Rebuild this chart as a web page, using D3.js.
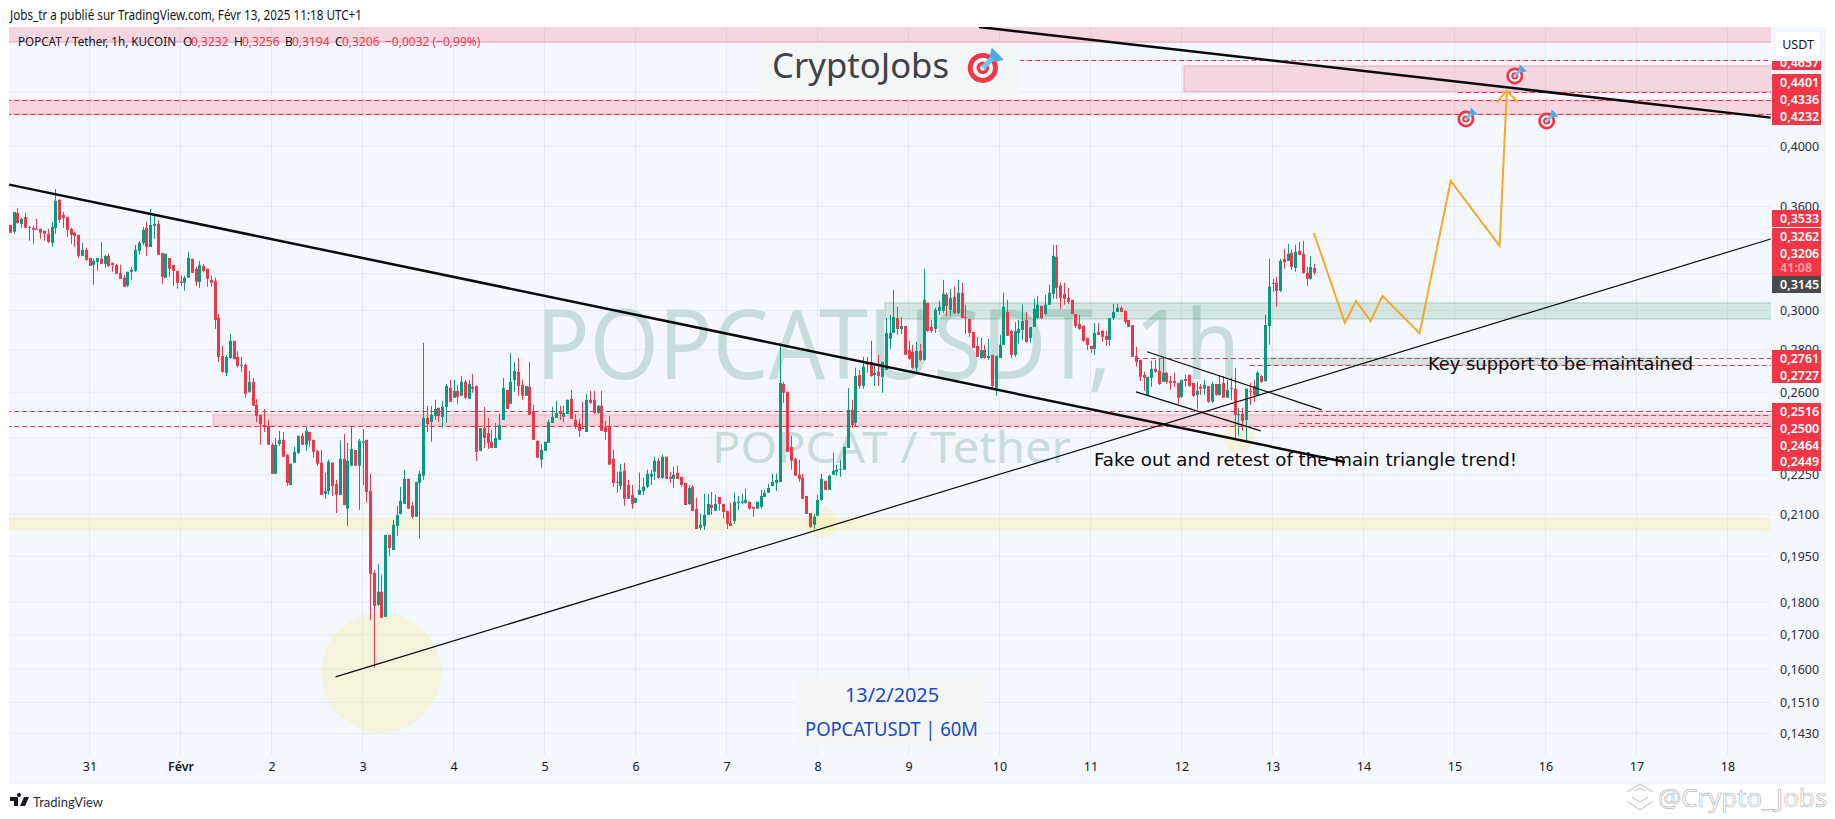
<!DOCTYPE html>
<html>
<head>
<meta charset="utf-8">
<title>POPCATUSDT 1h</title>
<script src="https://cdn.jsdelivr.net/npm/d3@7"></script>
<style>
  html, body { margin: 0; padding: 0; background: #fff; overflow: hidden; }
  text { font-family: "Noto Sans", sans-serif; }
</style>
</head>
<body>
<div id="chart"></div>
<script>
// hourly candles, first one is 21 hours before 31 Jan 00:00
var firstHour = -21;

var opens = [
.3486,.3444,.3560,.3492,.3535,.3468,.3468,.3462,.3462,.3450,.3432,.3378,.3468,.3642,.3548,.3535,.3462,.3438,.3426,.3302,.3337,
.3290,.3250,.3267,.3285,.3256,.3302,.3262,.3250,.3205,.3178,.3133,.3211,.3216,.3331,.3378,.3468,.3354,.3480,.3492,.3319,.3177,.3290,.3250,.3216,
.3155,.3150,.3178,.3285,.3228,.3155,.3244,.3228,.3166,.3161,.2961,.2771,.2690,.2761,.2845,.2766,.2723,.2728,.2602,.2648,.2543,.2499,.2455,.2451,
.2371,.2254,.2375,.2392,.2330,.2210,.2298,.2338,.2409,.2371,.2425,.2392,.2346,.2298,.2176,.2187,.2298,.2214,.2172,.2314,.2120,.2286,.2350,.2286,
.2379,.2392,.2187,.1894,.1791,.1833,.1754,.2025,.1972,.2057,.2101,.2138,.2234,.2131,.2090,.2218,.2246,.2486,.2468,.2494,.2530,.2490,.2534,.2620,
.2575,.2606,.2584,.2648,.2570,.2625,.2629,.2346,.2442,.2421,.2384,.2358,.2392,.2477,.2611,.2548,.2657,.2695,.2634,.2584,.2625,.2516,.2388,.2310,
.2346,.2379,.2464,.2486,.2512,.2490,.2503,.2570,.2477,.2459,.2442,.2425,.2566,.2566,.2508,.2539,.2447,.2451,.2314,.2222,.2206,.2266,.2210,.2172,
.2142,.2172,.2187,.2203,.2242,.2262,.2306,.2238,.2322,.2242,.2234,.2258,.2242,.2218,.2138,.2203,.2120,.2050,.2057,.2097,.2134,.2112,.2164,.2138,
.2112,.2068,.2075,.2142,.2142,.2142,.2146,.2127,.2120,.2127,.2164,.2180,.2206,.2218,.2222,.2638,.2602,.2363,.2314,.2250,.2238,.2168,.2104,.2061,
.2094,.2153,.2226,.2191,.2250,.2262,.2270,.2270,.2358,.2521,.2464,.2680,.2629,.2742,.2742,.2680,.2695,.2671,.2704,.2855,.2885,.2961,.2905,.2920,
.2800,.2790,.2714,.2795,.2752,.3041,.2915,.2905,.2999,.2999,.3084,.3004,.3073,.2988,.3095,.2966,.2956,.2890,.2820,.2761,.2800,.2761,.2776,.2620,
.2761,.2825,.2993,.2895,.2776,.2885,.2900,.2951,.2860,.2915,.2961,.3025,.2982,.3031,.3089,.3296,.3133,.3089,.3068,.3057,.2982,.2930,.2920,.2860,
.2820,.2805,.2890,.2895,.2870,.2850,.2961,.2993,.3015,.2999,.2951,.2925,.2771,.2752,.2680,.2588,.2666,.2709,.2699,.2648,.2690,.2652,.2652,.2643,
.2579,.2661,.2680,.2643,.2588,.2625,.2616,.2629,.2557,.2638,.2588,.2643,.2575,.2616,.2616,.2499,.2503,.2477,.2606,.2629,.2588,.2675,.2652,.2920,
.3150,.3150,.3106,.3285,.3273,.3319,.3233,.3331,.3314,.3205,.3172,.3232];

var highs = [
.3486,.3566,.3591,.3529,.3560,.3480,.3480,.3523,.3462,.3450,.3462,.3505,.3712,.3648,.3566,.3535,.3468,.3444,.3426,.3378,.3349,
.3290,.3285,.3290,.3384,.3308,.3314,.3262,.3256,.3250,.3194,.3211,.3239,.3366,.3390,.3474,.3505,.3585,.3548,.3517,.3319,.3314,.3290,.3250,.3216,
.3189,.3189,.3325,.3285,.3239,.3273,.3256,.3228,.3189,.3178,.2982,.2820,.2776,.2880,.2845,.2795,.2766,.2733,.2699,.2666,.2570,.2499,.2525,.2477,
.2379,.2400,.2430,.2425,.2334,.2294,.2363,.2409,.2421,.2447,.2425,.2392,.2350,.2350,.2258,.2310,.2298,.2230,.2388,.2417,.2379,.2451,.2350,.2396,
.2438,.2392,.2254,.1904,.1924,.1888,.2025,.2025,.2079,.2131,.2203,.2270,.2234,.2146,.2222,.2266,.2835,.2539,.2539,.2566,.2530,.2561,.2638,.2657,
.2657,.2634,.2675,.2657,.2657,.2685,.2629,.2442,.2534,.2486,.2434,.2464,.2503,.2666,.2611,.2785,.2742,.2761,.2657,.2629,.2742,.2543,.2388,.2375,
.2384,.2477,.2534,.2561,.2539,.2539,.2566,.2611,.2503,.2481,.2557,.2593,.2606,.2606,.2543,.2606,.2473,.2494,.2350,.2262,.2294,.2298,.2230,.2210,
.2161,.2258,.2238,.2270,.2270,.2322,.2318,.2330,.2322,.2262,.2282,.2286,.2242,.2218,.2210,.2210,.2161,.2101,.2176,.2176,.2183,.2172,.2164,.2138,
.2112,.2142,.2180,.2168,.2176,.2195,.2146,.2127,.2146,.2191,.2191,.2214,.2254,.2254,.2835,.2648,.2602,.2409,.2318,.2310,.2254,.2168,.2104,.2101,
.2172,.2254,.2226,.2250,.2338,.2290,.2310,.2363,.2620,.2566,.2714,.2704,.2766,.2766,.2845,.2738,.2776,.2742,.2961,.2977,.3111,.3020,.2966,.2920,
.2845,.2825,.2840,.2830,.3228,.3041,.2951,.3015,.3052,.3166,.3095,.3117,.3128,.3166,.3150,.3031,.2956,.2890,.2865,.2860,.2825,.2855,.2776,.2771,
.2875,.3095,.3057,.2900,.2941,.2951,.3031,.2993,.2915,.3062,.3079,.3025,.3084,.3139,.3366,.3366,.3150,.3150,.3122,.3057,.2982,.2977,.2925,.2860,
.2820,.2935,.2935,.2900,.2895,.2961,.3036,.3036,.3025,.2999,.2951,.2925,.2815,.2752,.2695,.2671,.2747,.2752,.2757,.2757,.2695,.2675,.2690,.2643,
.2657,.2680,.2680,.2643,.2648,.2638,.2657,.2629,.2648,.2638,.2680,.2675,.2657,.2666,.2714,.2530,.2530,.2616,.2643,.2657,.2699,.2680,.2977,.3285,
.3172,.3183,.3285,.3343,.3372,.3337,.3366,.3384,.3390,.3239,.3302,.3256];

var lows = [
.3438,.3432,.3492,.3468,.3468,.3390,.3372,.3456,.3402,.3390,.3378,.3354,.3432,.3498,.3468,.3414,.3372,.3354,.3290,.3302,.3273,
.3244,.3139,.3216,.3256,.3233,.3239,.3211,.3200,.3172,.3128,.3128,.3166,.3211,.3308,.3366,.3302,.3354,.3402,.3308,.3144,.3177,.3183,.3133,.3117,
.3133,.3106,.3178,.3205,.3133,.3122,.3211,.3128,.3128,.2905,.2742,.2690,.2675,.2756,.2756,.2714,.2695,.2575,.2597,.2539,.2468,.2371,.2425,.2371,
.2254,.2254,.2367,.2322,.2206,.2210,.2298,.2334,.2371,.2346,.2363,.2318,.2286,.2172,.2157,.2172,.2168,.2104,.2172,.2134,.2057,.2286,.2286,.2116,
.2210,.2142,.1745,.1604,.1788,.1751,.1754,.1951,.1972,.2021,.2101,.2138,.2120,.2083,.2090,.2011,.2230,.2425,.2384,.2477,.2468,.2442,.2464,.2557,
.2575,.2548,.2584,.2570,.2570,.2597,.2306,.2346,.2358,.2354,.2358,.2358,.2392,.2477,.2525,.2548,.2602,.2584,.2566,.2584,.2499,.2392,.2318,.2278,
.2346,.2379,.2464,.2486,.2477,.2468,.2503,.2481,.2438,.2404,.2438,.2425,.2548,.2503,.2503,.2430,.2392,.2290,.2203,.2180,.2191,.2131,.2157,.2120,
.2142,.2172,.2172,.2199,.2210,.2230,.2234,.2234,.2234,.2218,.2199,.2234,.2203,.2134,.2134,.2112,.2046,.2043,.2043,.2097,.2097,.2112,.2112,.2083,
.2046,.2057,.2065,.2116,.2138,.2138,.2116,.2090,.2120,.2120,.2164,.2180,.2206,.2187,.2222,.2552,.2342,.2270,.2246,.2222,.2157,.2101,.2050,.2046,
.2094,.2149,.2191,.2191,.2250,.2246,.2242,.2270,.2358,.2442,.2447,.2616,.2616,.2690,.2671,.2629,.2629,.2597,.2704,.2805,.2885,.2875,.2880,.2776,
.2752,.2709,.2695,.2747,.2747,.2890,.2885,.2885,.2977,.2988,.2972,.2972,.2982,.2982,.2961,.2880,.2865,.2810,.2766,.2757,.2757,.2752,.2620,.2584,
.2761,.2825,.2870,.2761,.2766,.2830,.2850,.2835,.2835,.2915,.2956,.2956,.2977,.3031,.3062,.3062,.3009,.3031,.3036,.2982,.2910,.2900,.2840,.2800,
.2785,.2776,.2875,.2840,.2820,.2820,.2951,.2993,.2993,.2930,.2915,.2766,.2719,.2652,.2606,.2584,.2625,.2690,.2634,.2648,.2638,.2611,.2625,.2548,
.2575,.2625,.2625,.2579,.2525,.2588,.2588,.2552,.2552,.2584,.2584,.2575,.2575,.2566,.2400,.2409,.2430,.2388,.2543,.2557,.2584,.2643,.2648,.2825,
.3100,.3020,.3100,.3228,.3273,.3222,.3211,.3308,.3200,.3133,.3166,.3194];

var closes = [
.3438,.3566,.3498,.3523,.3468,.3474,.3456,.3456,.3438,.3432,.3384,.3474,.3636,.3517,.3529,.3456,.3426,.3420,.3302,.3337,.3279,
.3244,.3273,.3290,.3256,.3302,.3244,.3250,.3200,.3172,.3128,.3211,.3222,.3337,.3378,.3456,.3354,.3486,.3492,.3308,.3183,.3314,.3228,.3216,.3150,
.3150,.3178,.3290,.3205,.3155,.3250,.3216,.3172,.3150,.2951,.2766,.2695,.2766,.2845,.2756,.2723,.2728,.2593,.2648,.2539,.2494,.2459,.2451,.2371,
.2254,.2371,.2392,.2322,.2218,.2294,.2342,.2409,.2371,.2430,.2388,.2342,.2294,.2172,.2187,.2302,.2206,.2172,.2314,.2134,.2306,.2354,.2286,.2388,
.2384,.2183,.1891,.1788,.1833,.1751,.2025,.1979,.2061,.2097,.2149,.2234,.2120,.2090,.2222,.2254,.2486,.2459,.2499,.2525,.2494,.2534,.2629,.2557,
.2606,.2579,.2648,.2575,.2638,.2616,.2342,.2442,.2400,.2379,.2358,.2400,.2455,.2620,.2525,.2648,.2699,.2629,.2584,.2629,.2499,.2392,.2318,.2350,
.2384,.2468,.2490,.2508,.2503,.2508,.2566,.2481,.2451,.2430,.2438,.2566,.2552,.2508,.2539,.2430,.2425,.2290,.2218,.2218,.2262,.2157,.2157,.2138,
.2161,.2191,.2203,.2254,.2254,.2306,.2238,.2322,.2234,.2234,.2250,.2234,.2210,.2134,.2199,.2112,.2046,.2061,.2097,.2138,.2123,.2138,.2138,.2108,
.2065,.2057,.2146,.2146,.2146,.2153,.2120,.2120,.2146,.2168,.2180,.2199,.2222,.2230,.2643,.2597,.2342,.2306,.2246,.2234,.2157,.2101,.2054,.2090,
.2153,.2234,.2191,.2246,.2266,.2270,.2274,.2363,.2521,.2455,.2675,.2629,.2719,.2728,.2675,.2690,.2675,.2742,.2885,.2885,.2966,.2905,.2920,.2776,
.2757,.2714,.2795,.2752,.3057,.2895,.2895,.3004,.3020,.3089,.3025,.3068,.2988,.3095,.2961,.2961,.2885,.2810,.2766,.2800,.2761,.2771,.2629,.2771,
.2825,.3020,.2870,.2776,.2895,.2905,.2946,.2840,.2915,.3009,.3031,.2961,.3031,.3095,.3302,.3122,.3068,.3062,.3046,.2982,.2920,.2905,.2845,.2825,
.2805,.2885,.2875,.2865,.2850,.2961,.2993,.3015,.2993,.2941,.2915,.2766,.2742,.2671,.2666,.2671,.2709,.2695,.2638,.2690,.2648,.2643,.2643,.2575,
.2657,.2652,.2629,.2584,.2606,.2616,.2634,.2557,.2638,.2588,.2638,.2575,.2611,.2620,.2499,.2503,.2473,.2616,.2602,.2588,.2690,.2648,.2925,.3128,
.3144,.3106,.3273,.3267,.3314,.3239,.3325,.3308,.3205,.3172,.3238,.3206];

// axes
var dayTicks = d3.range(0, 19);                // days after 31 Jan
var dayLabels = ["31", "Févr", "2", "3", "4", "5", "6", "7", "8", "9", "10", "11", "12", "13", "14", "15", "16", "17", "18"];
var axisPrices = [.4, .36, .3, .28, .26, .225, .21, .195, .18, .17, .16, .151, .143];
var gridPrices = [.48, .44, .4, .36, .34, .32, .3, .28, .26, .24, .225, .21, .195, .18, .17, .16, .151, .143];

// right hand price tags
var tagPrices = [.4657, .4401, .4336, .4232, .3533, .3262, .3206, .3145, .2761, .2727, .2516, .25, .2464, .2449];

// drawings, all [hour, hour, price, price] or [hour, price] lists. 445 runs past the pane edge
var pinkZones = [[-22, 445, .5, .4803], [288.6, 445, .4606, .4401], [-22, 445, .4336, .4232], [32.6, 445, .25, .2452]];
var greenZones = [[209.8, 445, .3041, .2956], [310.8, 422, .2761, .2727]];
var yellowZones = [[-22, 445, .2083, .2043]];
var yellowSpots = [[61.1, 92.7, .1767, .1432], [189.2, 197, .2128, .2014], [299, 307.4, .2464, .2338]];
var dashedLevels = [[.4657, 241], [.4401, 360.9], [.4336, -22], [.4232, -22], [.2761, 275.7], [.2727, 306],
                    [.2516, -22], [.25, 319], [.2464, 319], [.2449, -22]];
var thickLines = [[[-21.2, .3741], [331.1, .2301]], [[234.6, .4931], [443.4, .4207]]];
var thinLines = [[[64.9, .1579], [443.4, .3401]], [[278.9, .2791], [325, .2521]], [[276, .2602], [308.9, .243]]];
var forecast = [[322.9, .3437], [331.1, .2936], [334, .3051], [337.9, .2946], [341, .3078], [350.8, .2883], [359, .3765], [371.9, .336], [373.8, .4409]];
var forecastHead = [[371.2, .4324], [373.8, .4409], [376.7, .4324]];
var targets = [[363, .4197], [384.3, .4182], [375.9, .4526]];
var bigTarget = [235.6, .459];

var svgWidth = 1835, svgHeight = 819;
var pane = {left: 9, right: 1771, top: 27, bottom: 783, axisRight: 1825};
var red = "#f23645", green = "#089981";

var svg = d3.select("#chart").append("svg")
  .attr("width", svgWidth)
  .attr("height", svgHeight)
  .style("display", "block");

var dayMs = 864e5, hourMs = 36e5;
var t0 = Date.UTC(2025, 0, 31);
var xTime = d3.scaleUtc()
  .domain([new Date(t0), new Date(t0 + 18 * dayMs)])
  .range([89.5, 89.5 + 18 * 91]);
var yPrice = d3.scaleLog()
  .domain([.1311, .4931])
  .range([pane.bottom, pane.top]);

function xh(hour) { return xTime(new Date(t0 + hour * hourMs)); }
function comma(v) { return v.toFixed(4).replace(".", ","); }

svg.append("defs").append("clipPath").attr("id", "paneClip").append("rect")
  .attr("x", pane.left).attr("y", pane.top)
  .attr("width", pane.right - pane.left).attr("height", pane.bottom - pane.top);
svg.select("defs").append("clipPath").attr("id", "tagClip").append("rect")
  .attr("x", 1772).attr("y", 61).attr("width", 50).attr("height", 9);

// background
svg.append("rect")
  .attr("x", pane.left).attr("y", pane.top)
  .attr("width", pane.axisRight - pane.left).attr("height", pane.bottom - pane.top)
  .attr("fill", "#f4f7ff");
svg.append("path")
  .attr("d", `M${pane.axisRight},${pane.top}V${pane.bottom}H${pane.left}`)
  .attr("fill", "none").attr("stroke", "#e9ecf4");

var chart = svg.append("g").attr("clip-path", "url(#paneClip)");

// grid
chart.selectAll(".hgrid").data(gridPrices).enter().append("line")
  .attr("x1", pane.left).attr("x2", pane.right)
  .attr("y1", d => yPrice(d)).attr("y2", d => yPrice(d))
  .attr("stroke", "#e6e9f3");
chart.selectAll(".vgrid").data(dayTicks).enter().append("line")
  .attr("x1", d => xTime(new Date(t0 + d * dayMs))).attr("x2", d => xTime(new Date(t0 + d * dayMs)))
  .attr("y1", pane.top).attr("y2", 755)
  .attr("stroke", "#e6e9f3");

// watermark
chart.append("text")
  .attr("x", 536).attr("y", 379)
  .attr("textLength", 704).attr("lengthAdjust", "spacingAndGlyphs")
  .style("font-size", "96px").style("fill", "#c7dcdd")
  .text("POPCATUSDT, 1h");
chart.append("text")
  .attr("x", 712).attr("y", 463)
  .attr("textLength", 359).attr("lengthAdjust", "spacingAndGlyphs")
  .style("font-size", "43px").style("fill", "#c7dcdd")
  .text("POPCAT / Tether");

// zones
function drawZones(data, fill, stroke) {
  chart.selectAll(null).data(data).enter().append("rect")
    .attr("x", d => xh(d[0]))
    .attr("width", d => xh(d[1]) - xh(d[0]))
    .attr("y", d => yPrice(d[2]))
    .attr("height", d => yPrice(d[3]) - yPrice(d[2]))
    .attr("fill", fill).attr("stroke", stroke).attr("stroke-width", 2);
}
drawZones(pinkZones, "rgba(242,54,69,0.17)", "rgba(242,54,69,0.17)");
drawZones(greenZones, "rgba(46,150,90,0.17)", "rgba(46,150,90,0.17)");
drawZones(yellowZones, "rgba(250,230,90,0.22)", "rgba(250,230,90,0.15)");

chart.selectAll(".spot").data(yellowSpots).enter().append("ellipse")
  .attr("cx", d => (xh(d[0]) + xh(d[1])) / 2)
  .attr("cy", d => (yPrice(d[2]) + yPrice(d[3])) / 2)
  .attr("rx", d => (xh(d[1]) - xh(d[0])) / 2)
  .attr("ry", d => (yPrice(d[3]) - yPrice(d[2])) / 2)
  .attr("fill", "rgba(250,230,90,0.22)");

// dashed levels
chart.selectAll(".level").data(dashedLevels).enter().append("line")
  .attr("x1", d => xh(d[1])).attr("x2", pane.right)
  .attr("y1", d => Math.round(yPrice(d[0])) + .5).attr("y2", d => Math.round(yPrice(d[0])) + .5)
  .attr("stroke", red).attr("stroke-width", 1).attr("stroke-dasharray", "5,3");

// candles
var candles = closes.map(function(c, i) {
  return {hour: firstHour + i, open: opens[i], high: highs[i], low: lows[i], close: c};
});
var candle = chart.selectAll(".candle").data(candles).enter().append("g");
candle.append("line")
  .attr("x1", d => Math.round(xh(d.hour)) + .5).attr("x2", d => Math.round(xh(d.hour)) + .5)
  .attr("y1", d => yPrice(d.high)).attr("y2", d => yPrice(d.low))
  .attr("stroke", d => d.close >= d.open ? green : red);
candle.append("rect")
  .attr("x", d => Math.round(xh(d.hour)) - 1)
  .attr("width", 3)
  .attr("y", d => yPrice(Math.max(d.open, d.close)))
  .attr("height", d => Math.max(1, Math.abs(yPrice(d.open) - yPrice(d.close))))
  .attr("fill", d => d.close >= d.open ? green : red);

// trend lines
var pointLine = d3.line().x(d => xh(d[0])).y(d => yPrice(d[1]));
chart.selectAll(".thick").data(thickLines).enter().append("path")
  .attr("d", pointLine).attr("fill", "none").attr("stroke", "#0b0b0b").attr("stroke-width", 2.5);
chart.selectAll(".thin").data(thinLines).enter().append("path")
  .attr("d", pointLine).attr("fill", "none").attr("stroke", "#0b0b0b").attr("stroke-width", 1.2);

// projected path
chart.append("path").attr("d", pointLine(forecast))
  .attr("fill", "none").attr("stroke", "#f9a825").attr("stroke-width", 2);
chart.append("path").attr("d", pointLine(forecastHead))
  .attr("fill", "none").attr("stroke", "#f9a825").attr("stroke-width", 2);

// target icons
function drawTarget(cx, cy, r) {
  var g = chart.append("g").attr("transform", `translate(${cx},${cy})`);
  [[1, red], [.68, "#fff"], [.42, red], [.18, "#fff"]].forEach(function(ring) {
    g.append("circle").attr("r", r * ring[0]).attr("fill", ring[1]);
  });
  g.append("line")
    .attr("x1", 0).attr("y1", 0).attr("x2", r * .95).attr("y2", -r * .95)
    .attr("stroke", "#69c8f2").attr("stroke-width", r * .36);
  g.append("path")
    .attr("d", `M${r * .6},${-r * 1.35}L${r * 1.4},${-r * .55}L${r * .85},${-r * .4}L${r * .45},${-r * .8}Z`)
    .attr("fill", "#4fa8e8");
}
targets.forEach(d => drawTarget(xh(d[0]), yPrice(d[1]), 8.5));

// CryptoJobs banner
chart.append("rect").attr("x", 760).attr("y", 43).attr("width", 260).attr("height", 53).attr("fill", "#f3f6f6");
chart.append("text")
  .attr("x", 772).attr("y", 78)
  .attr("textLength", 177).attr("lengthAdjust", "spacingAndGlyphs")
  .style("font-size", "35px").style("fill", "#3f4246")
  .text("CryptoJobs");
drawTarget(xh(bigTarget[0]), yPrice(bigTarget[1]), 15);

// date box
chart.append("rect").attr("x", 797).attr("y", 678).attr("width", 186).attr("height", 68).attr("fill", "#f3f6f5");
chart.append("text")
  .attr("x", 845).attr("y", 702)
  .attr("textLength", 94).attr("lengthAdjust", "spacingAndGlyphs")
  .style("font-size", "19.5px").style("fill", "#1848cc")
  .text("13/2/2025");
chart.append("text")
  .attr("x", 805).attr("y", 736)
  .attr("textLength", 173).attr("lengthAdjust", "spacingAndGlyphs")
  .style("font-size", "19.5px").style("fill", "#1848cc")
  .text("POPCATUSDT | 60M");

// notes
chart.append("text")
  .attr("x", 1428).attr("y", 370)
  .attr("textLength", 265).attr("lengthAdjust", "spacingAndGlyphs")
  .style("font-family", "'DejaVu Sans'").style("font-size", "18px").style("fill", "#0b0b0b")
  .text("Key support to be maintained");
chart.append("text")
  .attr("x", 1094).attr("y", 466)
  .attr("textLength", 423).attr("lengthAdjust", "spacingAndGlyphs")
  .style("font-family", "'DejaVu Sans'").style("font-size", "18px").style("fill", "#0b0b0b")
  .text("Fake out and retest of the main triangle trend!");

// time axis
var xAxis = d3.axisBottom(xTime)
  .tickValues(dayTicks.map(d => new Date(t0 + d * dayMs)))
  .tickFormat((d, i) => dayLabels[i])
  .tickSize(0).tickPadding(0);
var xAxisG = svg.append("g").attr("transform", "translate(0,762)").call(xAxis);
xAxisG.select(".domain").remove();
xAxisG.selectAll("text").style("font-size", "12.5px").style("fill", "#131722")
  .style("font-family", "'Noto Sans', sans-serif")
  .style("font-weight", (d, i) => i == 1 ? "600" : "400");

// price axis
var yAxis = d3.axisRight(yPrice)
  .tickValues(axisPrices)
  .tickFormat(comma)
  .tickSize(0).tickPadding(0);
var yAxisG = svg.append("g").attr("transform", "translate(1780,0)").call(yAxis);
yAxisG.select(".domain").remove();
yAxisG.selectAll("text").style("font-size", "12.5px").style("fill", "#2a2e39")
  .style("font-family", "'Noto Sans', sans-serif");

// price tags, rows are stacked so they don't overlap
var tagRows = [62, 82, 99, 116, 218, 236, 253, 284, 358, 375, 411, 428, 445, 461];
var tagBoxes = [[61, 70], [74, 125], [210, 227], [228, 276], [350, 383], [403, 471]];
svg.selectAll(".tagbox").data(tagBoxes).enter().append("rect")
  .attr("x", 1772).attr("width", 49)
  .attr("y", d => d[0]).attr("height", d => d[1] - d[0])
  .attr("fill", red);
svg.append("rect").attr("x", 1772).attr("y", 276).attr("width", 49).attr("height", 17).attr("fill", "#4a4a4a");
svg.selectAll(".tag").data(tagPrices).enter().append("text")
  .attr("x", 1780)
  .attr("y", (d, i) => tagRows[i] + 4.5)
  .attr("clip-path", (d, i) => i == 0 ? "url(#tagClip)" : null)
  .style("font-size", "12.5px").style("font-weight", "600").style("fill", "#fff")
  .text(comma);
svg.append("text")
  .attr("x", 1780).attr("y", 271.5)
  .style("font-size", "12.5px").style("font-weight", "600").style("fill", "#f9a3ab")
  .text("41:08");

// currency button
svg.append("rect")
  .attr("x", 1775).attr("y", 31).attr("width", 46).attr("height", 26).attr("rx", 4)
  .attr("fill", "#fff").attr("stroke", "#eceef4");
svg.append("text")
  .attr("x", 1798).attr("y", 49).attr("text-anchor", "middle")
  .style("font-size", "12.5px").style("fill", "#131722")
  .text("USDT");

// header and legend
svg.append("text")
  .attr("x", 10).attr("y", 20)
  .attr("textLength", 352).attr("lengthAdjust", "spacingAndGlyphs")
  .style("font-size", "13.5px").style("fill", "#131722")
  .text("Jobs_tr a publié sur TradingView.com, Févr 13, 2025 11:18 UTC+1");

var last = closes.length - 1;
var change = closes[last] - closes[last - 1];
var changePct = change / closes[last - 1] * 100;
var legend = [
  ["POPCAT / Tether, 1h, KUCOIN", 18, "#131722"],
  ["O", 183, "#131722"], [comma(opens[last]), 191, red],
  ["H", 234, "#131722"], [comma(highs[last]), 242, red],
  ["B", 285, "#131722"], [comma(lows[last]), 292, red],
  ["C", 335, "#131722"], [comma(closes[last]), 342, red],
  ["−" + comma(Math.abs(change)) + " (−" + Math.abs(changePct).toFixed(2).replace(".", ",") + "%)", 385, red]
];
svg.selectAll(".legend").data(legend).enter().append("text")
  .attr("x", d => d[1]).attr("y", 46)
  .attr("textLength", (d, i) => i == 0 ? 158 : null)
  .attr("lengthAdjust", "spacingAndGlyphs")
  .style("font-size", "12px").style("fill", d => d[2])
  .text(d => d[0]);

// TradingView logo
svg.append("path")
  .attr("d", "M10,797h8v9h-4v-5h-4zM19,797a2,2 0 1,1 0.01,0M24,797h5l-4,9h-5z")
  .attr("fill", "#131722");
svg.append("text")
  .attr("x", 33).attr("y", 807)
  .attr("textLength", 70).attr("lengthAdjust", "spacingAndGlyphs")
  .style("font-family", "Lato").style("font-size", "14px").style("fill", "#2a2e39")
  .text("TradingView");

// author stamp
svg.append("path")
  .attr("d", "M1627,792l13,-8l13,8M1632,797l8,5l8,-5M1627,801l13,9l13,-9M1634,791l6,-3l6,3")
  .attr("fill", "none").attr("stroke", "#b8bcc2").attr("stroke-width", 1);
svg.append("text")
  .attr("x", 1658).attr("y", 807)
  .attr("textLength", 169).attr("lengthAdjust", "spacingAndGlyphs")
  .style("font-size", "26px").style("fill", "#fff").style("stroke", "#b4b8be").style("stroke-width", .7)
  .text("@Crypto_Jobs");
</script>
</body>
</html>
